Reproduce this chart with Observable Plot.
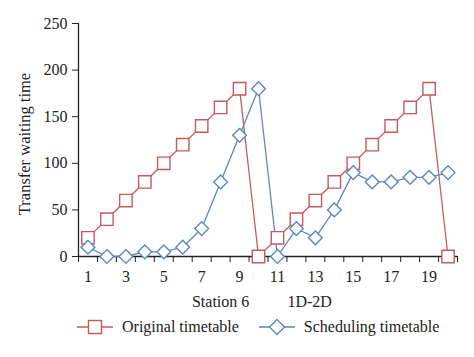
<!DOCTYPE html>
<html>
<head>
<meta charset="utf-8">
<script src="https://cdn.jsdelivr.net/npm/d3@7"></script>
<script src="https://cdn.jsdelivr.net/npm/@observablehq/plot@0.6"></script>
<style>
  body { margin: 0; background: #fff; }
  #chart { width: 474px; font-family: "Liberation Serif", "DejaVu Serif", serif; }
  .legend { display: flex; align-items: center; height: 34px; font-size: 16px; color: #222; }
  .legend span { display: inline-flex; align-items: center; }
</style>
</head>
<body>
<div id="chart"></div>
<script>
const stations = [1,2,3,4,5,6,7,8,9,10,11,12,13,14,15,16,17,18,19,20];
const original = [20,40,60,80,100,120,140,160,180,0,20,40,60,80,100,120,140,160,180,0];
const scheduling = [10,0,0,5,5,10,30,80,130,180,0,30,20,50,90,80,80,85,85,90];
const seriesNames = ["Original timetable", "Scheduling timetable"];
const yTicks = [0,50,100,150,200,250];
const xTickLabels = [1,3,5,7,9,11,13,15,17,19];
const xGroupLabels = ["Station 6", "1D-2D"];
const yLabel = "Transfer waiting time";

const RED = "#c45a5a";
const BLUE = "#5a88c0";
const FONT = "Liberation Serif, DejaVu Serif, serif";

const dataO = stations.map((s, i) => ({station: s, value: original[i]}));
const dataS = stations.map((s, i) => ({station: s, value: scheduling[i]}));
const minorTicks = d3.range(0.5, 20.51, 1);
const groupX = [8.0, 12.7];

const plot = Plot.plot({
  width: 474,
  height: 310,
  marginLeft: 78,
  marginRight: 17,
  marginTop: 23,
  marginBottom: 54,
  style: {fontFamily: FONT, fontSize: "16px", color: "#222", background: "#fff"},
  x: {domain: [0.5, 20.5]},
  y: {domain: [0, 250]},
  marks: [
    Plot.axisY({ticks: yTicks, tickSize: 6, tickPadding: 5, label: null, stroke: "#222", fontSize: 16, fill: "#222"}),
    Plot.axisX({ticks: minorTicks, tickSize: 6, tickFormat: () => "", label: null, stroke: "#222"}),
    Plot.axisX({ticks: xTickLabels, tickSize: 0, tickPadding: 14, label: null, tickFormat: d => String(d), fontSize: 16, fill: "#222"}),
    Plot.ruleX([0.5], {y1: 0, y2: 250, stroke: "#222", strokeWidth: 1.3}),
    Plot.ruleY([0], {x1: 0.5, x2: 20.5, stroke: "#222", strokeWidth: 1.3}),
    Plot.text([yLabel], {frameAnchor: "left", dx: -54, dy: 4, rotate: -90, textAnchor: "middle", text: d => d, fontSize: 16.5, fill: "#222"}),
    Plot.text(xGroupLabels, {x: (d, i) => groupX[i], y: 0, dy: 45, text: d => d, fontSize: 16, fill: "#222"}),
    Plot.line(dataO, {x: "station", y: "value", stroke: RED, strokeWidth: 1.3}),
    Plot.line(dataS, {x: "station", y: "value", stroke: BLUE, strokeWidth: 1.3}),
    Plot.dot(dataO, {x: "station", y: "value", symbol: "square", r: 7, stroke: RED, fill: "white", strokeWidth: 1.4}),
    Plot.dot(dataS, {x: "station", y: "value", symbol: "diamond2", r: 6.2, stroke: BLUE, fill: "white", strokeWidth: 1.4})
  ]
});
document.getElementById("chart").appendChild(plot);

const legend = document.createElement("div");
legend.className = "legend";
legend.innerHTML = `
  <span style="margin-left:77px">
    <svg width="36" height="16"><line x1="0" y1="8" x2="36" y2="8" stroke="${RED}" stroke-width="1.3"/>
    <rect x="11.5" y="1.5" width="13" height="13" fill="white" stroke="${RED}" stroke-width="1.4"/></svg>
    <span style="margin-left:9px">${seriesNames[0]}</span>
  </span>
  <span style="margin-left:20px">
    <svg width="36" height="18"><line x1="0" y1="9" x2="36" y2="9" stroke="${BLUE}" stroke-width="1.3"/>
    <path d="M18,1.5L25.5,9L18,16.5L10.5,9Z" fill="white" stroke="${BLUE}" stroke-width="1.4"/></svg>
    <span style="margin-left:9px">${seriesNames[1]}</span>
  </span>`;
document.getElementById("chart").appendChild(legend);
</script>
</body>
</html>
